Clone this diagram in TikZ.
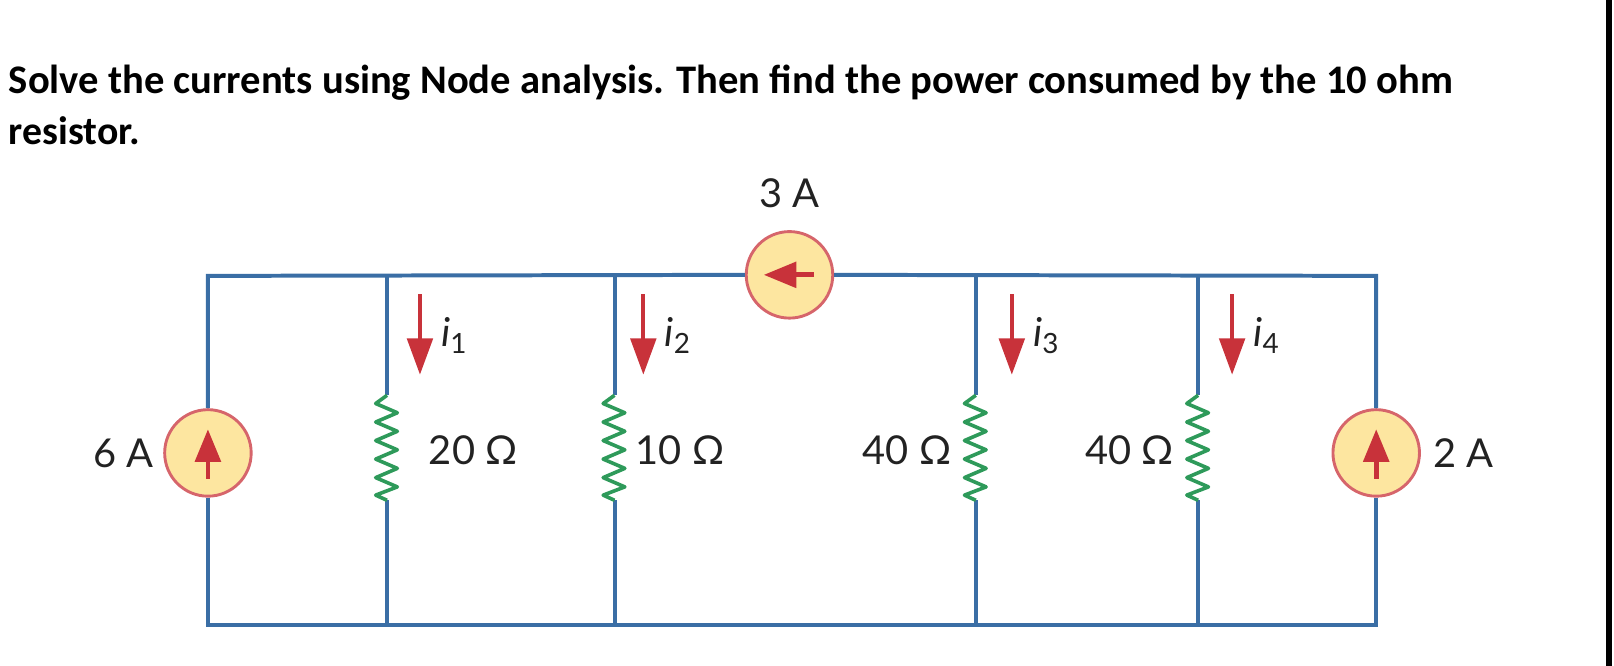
\documentclass[tikz,border=0pt]{standalone}
\usepackage{fontspec}
\setmainfont{Lato}
\newfontfamily\qfont{Carlito}
\usetikzlibrary{arrows.meta}
\definecolor{wire}{HTML}{3A6EA5}
\definecolor{resg}{HTML}{2E9A5A}
\definecolor{arr}{HTML}{C8323A}
\definecolor{srcfill}{HTML}{FDE6A0}
\definecolor{txt}{HTML}{222222}
\tikzset{
 wirel/.style={draw=wire,line width=1.1pt},
 src/.style={circle,minimum size=0.84cm,inner sep=0pt,fill=srcfill,draw=arr!75,line width=0.8pt},
 lbl/.style={font=\fontsize{11}{13}\selectfont,text=txt,inner sep=0pt},
 cur/.style={draw=arr,line width=1.1pt,-{Triangle[length=10pt,width=7pt]}},
 curlbl/.style={font=\fontsize{11}{13}\selectfont\itshape,text=txt,inner sep=0pt,anchor=west},
 res/.style={draw=resg,line width=1pt},
 srcarr/.style={draw=arr,line width=1.3pt,-{Triangle[length=9pt,width=7pt]}},
}
\begin{document}
\begin{tikzpicture}[x=0.01cm,y=-0.01cm]
\useasboundingbox (0,0) rectangle (1568,647);
\draw[line width=1.5pt] (1563,0) -- (1563,647);
\node[anchor=base west,inner sep=0pt] (q1) at (8,91) {\resizebox{14.02cm}{!}{\qfont\bfseries\fontsize{13.6}{16}\selectfont Solve the currents using Node analysis. Then find the power consumed by the 10 ohm}};
\node[anchor=base west,inner sep=0pt] (q2) at (8,140) {\resizebox{1.27cm}{!}{\qfont\bfseries\fontsize{13.6}{16}\selectfont resistor.}};
\coordinate (tl) at (202,268); \coordinate (bl) at (202,607);
\coordinate (tr) at (1337,268); \coordinate (br) at (1337,607);
\node[src] (s6) at (202,440) {};
\node[src] (s2) at (1337,440) {};
\node[src] (s3) at (767,267) {};
\draw[wirel] (s6.north) -- (tl) -- (s3.west);
\draw[wirel] (s3.east) -- (tr) -- (s2.north);
\draw[wirel] (s6.south) -- (bl) -- (br) -- (s2.south);
\foreach \x in {376,597,948,1164}{
  \draw[wirel] (\x,268) -- (\x,384);
  \draw[wirel] (\x,486) -- (\x,607);
  \draw[res,line join=round] (\x,384) -- (\x-11,392) -- (\x+10,401) -- (\x-11,410) -- (\x+10,419) -- (\x-11,428) -- (\x+10,437) -- (\x-11,446) -- (\x+10,455) -- (\x-11,464) -- (\x+10,473) -- (\x-11,481) -- (\x,486);
}
\draw[srcarr] (202,465) -- (202,417);
\draw[srcarr] (1337,465) -- (1337,417);
\draw[srcarr] (791,267) -- (742,267);
\node[lbl,anchor=east] (l6) at (150,440) {6 A};
\node[lbl,anchor=west] (l2) at (1392,440) {2 A};
\node[lbl] (l3) at (767,188) {3 A};
\node[lbl,anchor=west] (r1) at (416,437) {20 Ω};
\node[lbl,anchor=west] (r2) at (617,437) {10 Ω};
\node[lbl,anchor=east] (r3) at (925,437) {40 Ω};
\node[lbl,anchor=east] (r4) at (1141,437) {40 Ω};
\foreach \x/\n in {408/1,625/2,983/3,1197/4}{
  \coordinate (a\n) at (\x,286); \coordinate (e\n) at (\x,364);
  \draw[cur] (a\n) -- (e\n);
  \node[curlbl] (c\n) at (\x+20,326) {\textit{i}\textsubscript{\normalfont\n}};
}
\end{tikzpicture}
\end{document}
